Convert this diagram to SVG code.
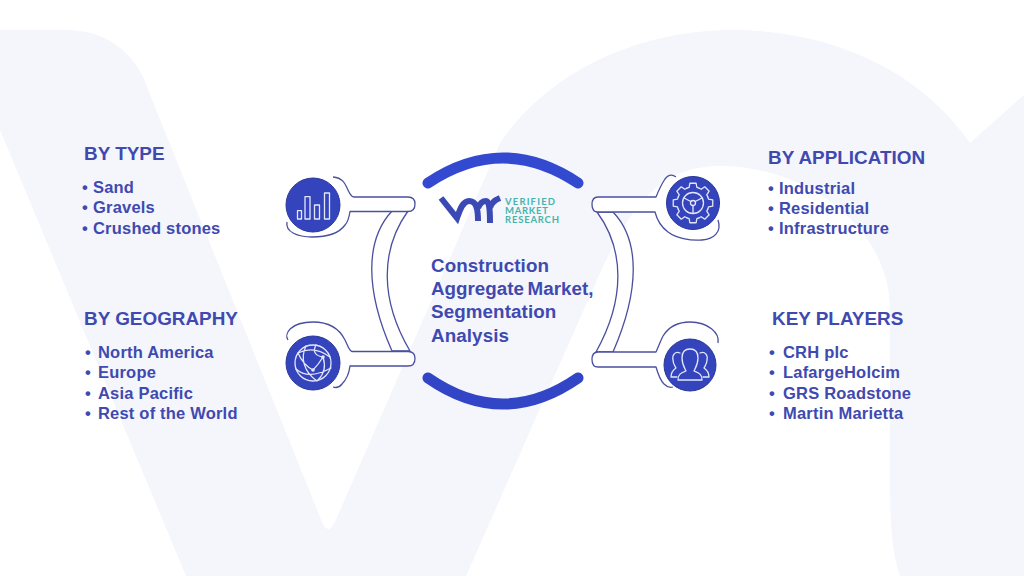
<svg xmlns="http://www.w3.org/2000/svg" width="1024" height="576" viewBox="0 0 1024 576">
<style>
.t{font-family:"Liberation Sans",Arial,sans-serif;font-weight:700;fill:#4049b0}
.h{font-size:18.9px}
.l{font-size:16.5px;letter-spacing:.2px}
.c{font-size:18.8px;letter-spacing:.1px}
.o{fill:#fff;stroke:#4a4f9f;stroke-width:1.3;stroke-linejoin:round}
.d{fill:#3444bd;stroke:#2b3798;stroke-width:1}
.i{fill:none;stroke:#e4e7f7;stroke-width:1.3;stroke-linejoin:round;stroke-linecap:round}
.a{fill:none;stroke:#3349cf;stroke-width:11;stroke-linecap:round}
.v{font-family:Lato,"Liberation Sans",sans-serif;font-size:9.5px;font-weight:700;fill:#45b5ac}
</style>
<defs>
<path id="tooth" d="M-6.12,-14.78 L-3.87,-15.52 L-3.13,-19.75 H3.13 L3.87,-15.52 L6.12,-14.78"/>
</defs>
<rect width="1024" height="576" fill="#fff"/>
<path id="backdrop" fill="#f4f6fc" d="M0,30 H65 C105,30 130,50 143,77 L322,522 Q328,536 335,522 L500,143 C550,70 640,30 733,30 C830,30 920,70 970,143 L1024,95 V576 H900 C893,555 890,530 890,480 V310 C890,230 810,166 720,166 C660,166 630,205 597,280 L466,576 H186 L0,130 Z"/>
<g id="connectors">
<path class="o" d="M392,211 C365,240 365,290 392,351 H410 C380,300 380,250 408,211 Z"/>
<path class="o" d="M333,177 C345,178 346,187 348,190 C350,194 351,197 354,197 H408 C413,197 415,200 415,204 C415,208 413,211.500 408,211.500 H350 C349,218 347,223 345,225 C340,232 330,237 312,237 C298,237 285,232 287,222"/>
<path class="o" d="M288,340 C284,334 290,322 313,322 C330,322 340,330 345,340 C348,346 349,351 352,351.500 H408 C413,351.500 415,354 415,358.500 C415,363 413,366 408,366 H350 C349,374 346,380 342,384 C339,388 336,388 333,387"/>
<path class="o" d="M613,212 C640,240 640,290 613,352 H596 C625,300 625,250 597,212 Z"/>
<path class="o" d="M676,177 C672,174 668,175 665,179 C661,185 658,192 656,197 H598 C594,197 592,200 592,204.500 C592,209 594,212 598,212 H655 C657,220 660,226 668,232 C676,238 690,241 702,240 C714,239 722,232 718,220"/>
<path class="o" d="M718,343 C720,333 708,322 690,322 C676,322 668,328 663,336 C660,342 658,348 656,352 H598 C594,352 592,355 592,359.500 C592,364 594,367 598,367 H656 C658,374 660,380 664,384 C667,387 670,388 673,387"/>
</g>
<g id="center">
<path class="a" d="M428,183 Q503,133 578,183"/>
<path class="a" d="M428,378 Q503,430 578,378" style="stroke:#3245c6"/>
<g id="logo">
<path fill="none" stroke="#3b49b5" stroke-width="6" d="M441,198 L457,218 C460,209 463,201 469,201 C476,201 478,208 478,221 M478,208 C480,203 483,201 486,201 C489,201 490,208 490,223 M490,208 C491,203 495,200 500,198"/>
<text class="v" x="505" y="205" textLength="50" lengthAdjust="spacing">VERIFIED</text>
<text class="v" x="505" y="214" textLength="43" lengthAdjust="spacing">MARKET</text>
<text class="v" x="505" y="223" textLength="54" lengthAdjust="spacing">RESEARCH</text>
</g>
<text class="t c"><tspan x="431" y="272">Construction</tspan><tspan x="431" y="295" style="word-spacing:-1.5px;letter-spacing:0">Aggregate Market,</tspan><tspan x="431" y="318">Segmentation</tspan><tspan x="431" y="342">Analysis</tspan></text>
</g>
<g id="node-type">
<circle class="d" cx="313" cy="205" r="27"/>
<path class="i" d="M297.500,210.700 h4 v8.300 h-4 z M305,196.700 h5 v22.300 h-5 z M314.500,205 h5 v14 h-5 z M324.500,193 h5 v26 h-5 z"/>
<text class="t h" x="84" y="159.500">BY TYPE</text>
<text class="t l"><tspan x="82" y="192.500">•</tspan><tspan x="93" y="192.500">Sand</tspan><tspan x="82" y="212.500">•</tspan><tspan x="93" y="212.500">Gravels</tspan><tspan x="82" y="233.500">•</tspan><tspan x="93" y="233.500">Crushed stones</tspan></text>
</g>
<g id="node-geography">
<circle class="d" cx="313" cy="363" r="27"/>
<g class="i">
<circle cx="313" cy="363" r="18"/>
<path d="M298,353 C308,348 318,348 330,357 M296,369 C306,378 320,374 331,368 M306,346 C300,358 304,372 317,381 M316,345 C312,352 316,356 323,357 M323,357 C326,366 324,374 318,380 M298,353 C302,362 307,367 313,370 M313,370 C317,366 320,362 323,357"/>
</g>
<circle cx="313" cy="370" r="1.800" fill="#e4e7f7"/>
<circle cx="323" cy="357" r="1.800" fill="#e4e7f7"/>
<text class="t h" x="84" y="324.500">BY GEOGRAPHY</text>
<text class="t l"><tspan x="85" y="357.500">•</tspan><tspan x="98" y="357.500">North America</tspan><tspan x="85" y="378">•</tspan><tspan x="98" y="378">Europe</tspan><tspan x="85" y="398.500">•</tspan><tspan x="98" y="398.500">Asia Pacific</tspan><tspan x="85" y="419">•</tspan><tspan x="98" y="419">Rest of the World</tspan></text>
</g>
<g id="node-application">
<circle class="d" cx="693" cy="203" r="26.500"/>
<g class="i">
<use href="#tooth" transform="translate(693 203)"/>
<use href="#tooth" transform="translate(693 203) rotate(45)"/>
<use href="#tooth" transform="translate(693 203) rotate(90)"/>
<use href="#tooth" transform="translate(693 203) rotate(135)"/>
<use href="#tooth" transform="translate(693 203) rotate(180)"/>
<use href="#tooth" transform="translate(693 203) rotate(225)"/>
<use href="#tooth" transform="translate(693 203) rotate(270)"/>
<use href="#tooth" transform="translate(693 203) rotate(315)"/>
<circle cx="693" cy="203" r="10.500"/>
<circle cx="693" cy="203" r="2.500"/>
<path d="M690.800,201.500 L684,198 M695.200,201.500 L702,198 M693,205.500 V213"/>
</g>
<text class="t h" x="768" y="164">BY APPLICATION</text>
<text class="t l"><tspan x="768" y="193.500">•</tspan><tspan x="779" y="193.500">Industrial</tspan><tspan x="768" y="213.500">•</tspan><tspan x="779" y="213.500">Residential</tspan><tspan x="768" y="234">•</tspan><tspan x="779" y="234">Infrastructure</tspan></text>
</g>
<g id="node-players">
<circle class="d" cx="690" cy="365" r="26"/>
<g class="i">
<path d="M678,380 C678,374 681,373 686,371 C684,367 682,364 682,358 C682,352 685,349 690,349 C695,349 698,352 698,358 C698,364 696,367 694,371 C699,373 702,374 702,380 Z"/>
<path d="M680,353 C675,351 672,355 673,360 C673,364 675,366 676,368 C673,370 671,372 671,377 H677"/>
<path d="M700,353 C705,351 708,355 707,360 C707,364 705,366 704,368 C707,370 709,372 709,377 H703"/>
</g>
<text class="t h" x="772" y="324.500">KEY PLAYERS</text>
<text class="t l"><tspan x="769" y="357.500">•</tspan><tspan x="783" y="357.500">CRH plc</tspan><tspan x="769" y="378">•</tspan><tspan x="783" y="378">LafargeHolcim</tspan><tspan x="769" y="398.500">•</tspan><tspan x="783" y="398.500">GRS Roadstone</tspan><tspan x="769" y="419">•</tspan><tspan x="783" y="419">Martin Marietta</tspan></text>
</g>
</svg>
